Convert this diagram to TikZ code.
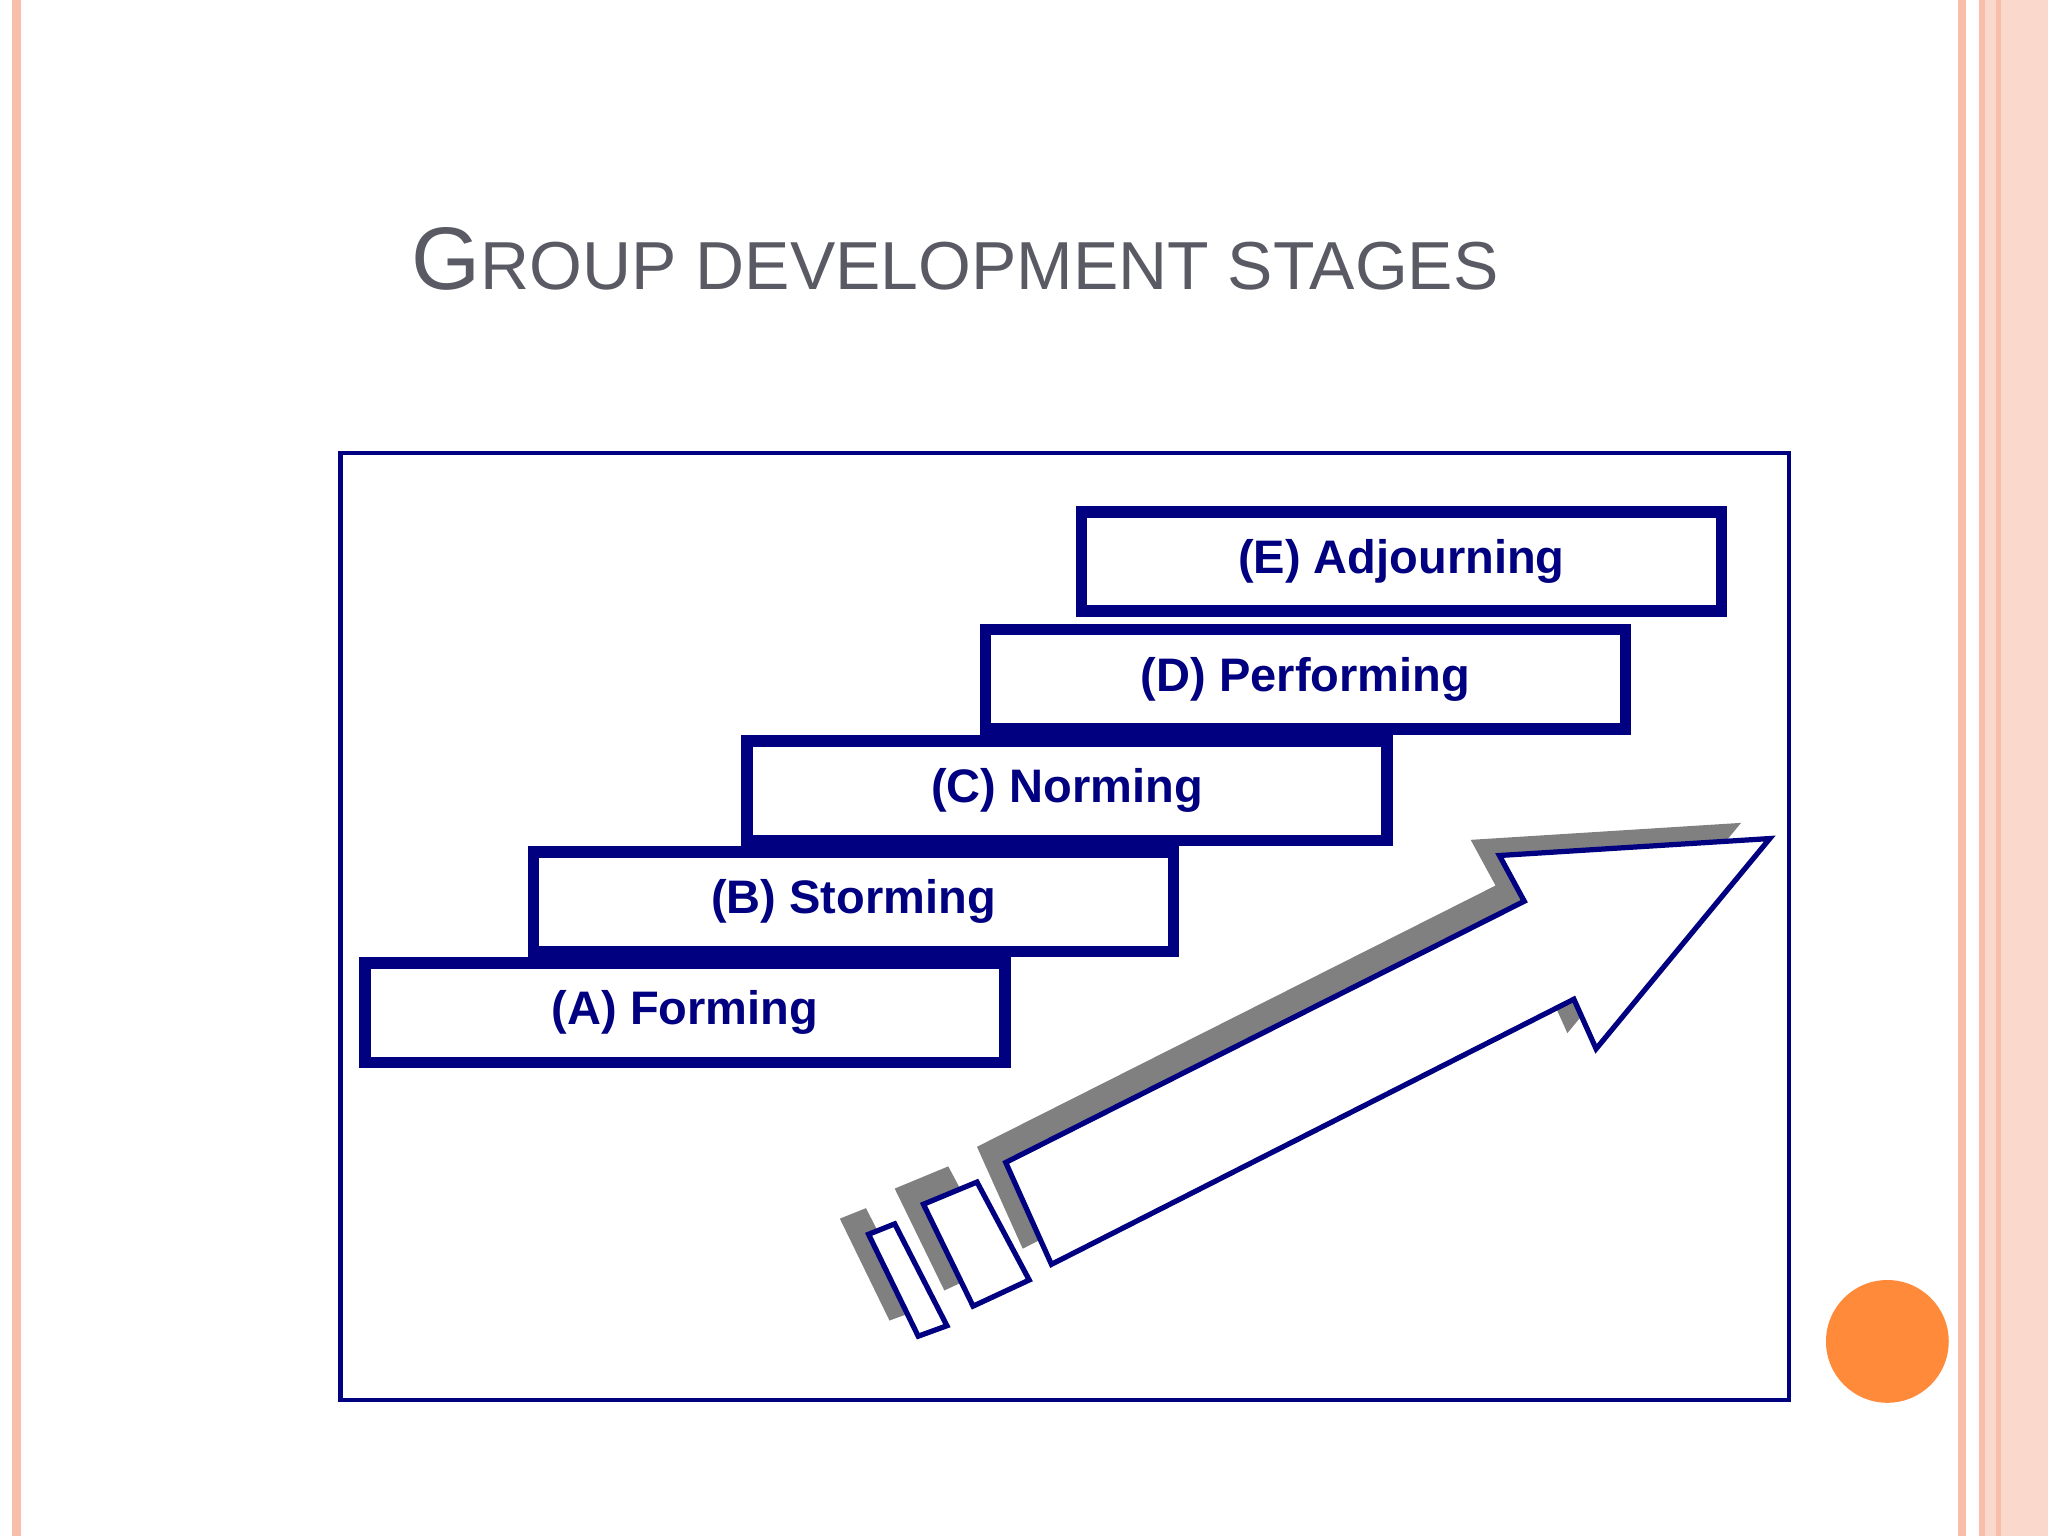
\documentclass[tikz,border=0pt]{standalone}
\usepackage{fontspec}
\setmainfont{Liberation Sans}
\begin{document}
\begin{tikzpicture}[x=1pt,y=-1pt,
  stage/.style={draw=navy,line width=9pt,minimum width=490pt,minimum height=76pt,inner sep=0pt,font=\bfseries\fontsize{36}{40}\selectfont,text=navy},
  arr/.style={draw=navy,line width=4pt,fill=white,line join=miter},
  shad/.style={fill=shadowgray}]
\definecolor{navy}{RGB}{0,0,128}
\definecolor{salmon}{RGB}{248,190,170}
\definecolor{titlegray}{RGB}{90,90,100}
\definecolor{shadowgray}{RGB}{128,128,128}
\definecolor{orng}{RGB}{255,138,58}
\useasboundingbox (0,0) rectangle (1568,1176);
\fill[white] (0,0) rectangle (1568,1176);
% side decorations
\fill[salmon] (9,0) rectangle (16,1176);
\fill[salmon] (1499,0) rectangle (1505,1176);
\fill[salmon!60] (1515,0) rectangle (1568,1176);
\fill[salmon] (1515,0) rectangle (1520,1176);
\fill[salmon] (1528,0) rectangle (1532,1176);
% title
\node[anchor=base west,text=titlegray,inner sep=0pt] (title) at (315,222)
 {{\fontsize{68}{74}\selectfont G}{\fontsize{52}{58}\selectfont ROUP DEVELOPMENT STAGES}};
% frame
\node[draw=navy,line width=3.5pt,minimum width=1109pt,minimum height=725pt,anchor=north west,inner sep=0pt] (frame) at (259,345) {};
% stages
\node[stage] (A) at (524.5,775.5) {(A) Forming};
\node[stage] (B) at (653.5,690.5) {(B) Storming};
\node[stage] (C) at (817,605.5) {(C) Norming};
\node[stage] (D) at (999.5,520) {(D) Performing};
\node[stage] (E) at (1073,430) {(E) Adjourning};
% arrow shadows
\begin{scope}[shift={(-22,-12)}]
\fill[shadowgray] (770,890) -- (1167,690) -- (1148,655) -- (1355,642) -- (1222,803) -- (1205,765) -- (805,968) -- cycle;
\fill[shadowgray] (707,922) -- (748,905) -- (788,980) -- (745,1000) -- cycle;
\fill[shadowgray] (665,945) -- (685,937) -- (725,1015) -- (703,1023) -- cycle;
\end{scope}
\draw[arr] (770,890) -- (1167,690) -- (1148,655) -- (1355,642) -- (1222,803) -- (1205,765) -- (805,968) -- cycle;
\draw[arr] (707,922) -- (748,905) -- (788,980) -- (745,1000) -- cycle;
\draw[arr] (665,945) -- (685,937) -- (725,1015) -- (703,1023) -- cycle;
% dot
\fill[orng] (1445,1027) circle (47);
\end{tikzpicture}
\end{document}
